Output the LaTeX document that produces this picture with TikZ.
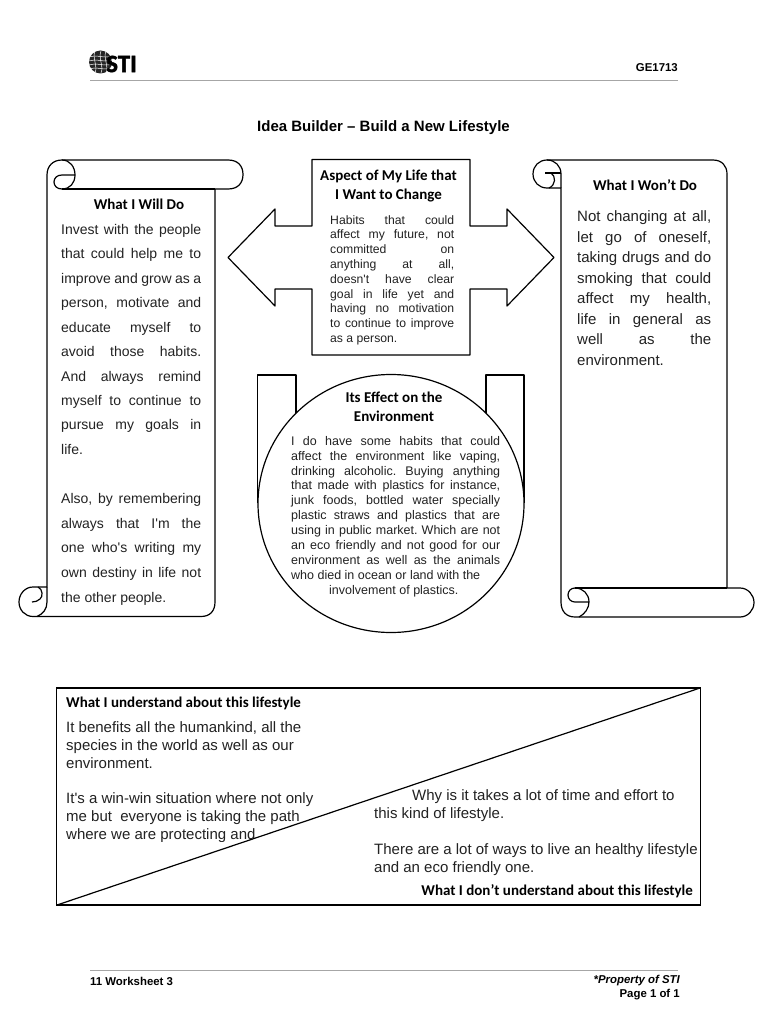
\documentclass[tikz,border=0pt]{standalone}
\usepackage{fontspec}
\setmainfont{Liberation Sans}[Ligatures=TeXOff]
\newfontfamily\calfont{Carlito}[Ligatures=TeXOff]
\newfontfamily\logofont{Carlito}[BoldFeatures={FakeBold=1.5}]
\definecolor{ink}{HTML}{222222}
\tikzset{
  outline/.style={draw=black,line width=1.2pt,fill=white,line join=round},
  rule/.style={draw=black!35,line width=1.8pt},
  para/.style={inner sep=0pt,anchor=north west,text=ink,align=left},
  just/.style={inner sep=0pt,anchor=north west,text=ink,align=justify},
  head/.style={inner sep=0pt,anchor=center,align=center,text=black,font=\calfont\bfseries\fontsize{15}{19}\selectfont},
  small/.style={inner sep=0pt,text=black,font=\bfseries\fontsize{11.4}{14}\selectfont}
}
\tolerance=10000 \hbadness=10000 \hfuzz=20pt \hyphenpenalty=10000 \exhyphenpenalty=10000
\frenchspacing
\begin{document}
\begin{tikzpicture}[x=1pt,y=-1pt]
\useasboundingbox (0,0) rectangle (768,1024);
\fill[white] (0,0) rectangle (768,1024);
% header
\fill[black!85] (100.5,62) circle [radius=11.5pt];
\foreach \yy in {56,60,64,68}{\draw[white,line width=.5pt] (89,\yy+1) .. controls (96,\yy-2) and (104,\yy+3) .. (112,\yy);}
\foreach \xx in {95,101,106}{\draw[white,line width=.5pt] (\xx,51) .. controls (\xx-3,58) and (\xx+3,66) .. (\xx,73);}
\node[inner sep=0pt,anchor=west,text=black,draw=none,font=\logofont\bfseries\fontsize{25}{25}\selectfont] (logo) at (106,64) {STI};
\draw[rule] (90,80.5) -- (678,80.5);
\node[small,anchor=east] (code) at (678,67.5) {GE1713};
\node[inner sep=0pt,anchor=center,font=\bfseries\fontsize{15}{16}\selectfont] (title) at (383.5,128) {Idea Builder – Build a New Lifestyle};
% left scroll
\path[outline] (47,175) .. controls (47,166) and (53,160) .. (62,160) -- (228,160) .. controls (238,160) and (243,166) .. (243,174.5) .. controls (243,183) and (238,189) .. (228,189) -- (215,189) -- (215,602) .. controls (215,611) and (210,616.5) .. (201,616.5) -- (33,616.5) .. controls (25,616.5) and (19,610) .. (19,602) .. controls (19,594) and (25,587) .. (33,587) -- (47,587) -- cycle;
\draw[outline,fill=none] (62,160) .. controls (70,160) and (75,167) .. (75,175) .. controls (75,183) and (70,189) .. (62,189) .. controls (57,189) and (54,186) .. (54,182) .. controls (54,178) and (57,175) .. (62,175) -- (75,175);
\draw[outline,fill=none] (62,189) -- (215,189);
\draw[outline,fill=none] (47,587) -- (47,602) .. controls (47,609) and (43,614) .. (37,616.5);
\draw[outline,fill=none] (38,587) .. controls (43,589) and (43,597) .. (40,599) .. controls (38,601) and (35,602) .. (32,602);
\node[head] (willhead) at (139,204) {What I Will Do};
\node[just,text width=140pt,font=\fontsize{14}{24.45}\selectfont] (will1) at (61,224) {Invest with the people\linebreak that could help me to\linebreak improve and grow as a\linebreak person, motivate and\linebreak educate myself to\linebreak avoid those habits.\linebreak And always remind\linebreak myself to continue to\linebreak pursue my goals in\linebreak life.};
\node[just,text width=140pt,font=\fontsize{14}{24.7}\selectfont] (will2) at (61,493) {Also, by remembering\linebreak always that I'm the\linebreak one who's writing my\linebreak own destiny in life not\linebreak the other people.};
% right scroll
\path[outline] (547,160) -- (713,160) .. controls (722,160) and (727,166) .. (727,174) -- (727,588) -- (740,588) .. controls (748,588) and (754,595) .. (754,602.5) .. controls (754,610) and (748,617) .. (740,617) -- (575,617) .. controls (566,617) and (561,611) .. (561,602) -- (561,188) -- (547,188) .. controls (539,188) and (533,182) .. (533,174) .. controls (533,166) and (539,160) .. (547,160) -- cycle;
\draw[outline,fill=none] (547,160) .. controls (555,160) and (561,166) .. (561,174) -- (561,188);
\draw[outline,fill=none] (545,173) -- (561,173);
\draw[outline,fill=none] (551,173) .. controls (556,176) and (556,185) .. (549,188);
\draw[outline,fill=none] (575,588) -- (727,588);
\draw[outline,fill=none] (589,602) -- (575,602) .. controls (571,602) and (568,599) .. (568,595) .. controls (568,591) and (571,588) .. (575,588) .. controls (583,588) and (589,594) .. (589,602) .. controls (589,608) and (585,614) .. (579,617);
\node[head] (wonthead) at (645,185) {What I Won’t Do};
\node[just,text width=134pt,font=\fontsize{15}{20.55}\selectfont] (wont) at (577,210.5) {Not changing at all,\linebreak let go of oneself,\linebreak taking drugs and do\linebreak smoking that could\linebreak affect my health,\linebreak life in general as\linebreak well as the\linebreak environment.};
% centre arrow
\path[outline] (312,159.5) -- (470,159.5) -- (470,226) -- (507,226) -- (507,209) -- (554,257.5) -- (507,306) -- (507,289) -- (470,289) -- (470,355) -- (312,355) -- (312,289) -- (275,289) -- (275,306) -- (228,257.5) -- (275,209) -- (275,226) -- (312,226) -- cycle;
\node[head] (aspecthead) at (388.5,186) {Aspect of My Life that\\I Want to Change};
\node[just,text width=124pt,font=\fontsize{12.2}{14.8}\selectfont] (aspect) at (330,215) {Habits that could\linebreak affect my future, not\linebreak committed on\linebreak anything at all,\linebreak doesn't have clear\linebreak goal in life yet and\linebreak having no motivation\linebreak to continue to improve\linebreak as a person.};
% circle with tabs
\path[outline] (257.5,503) -- (257.5,375) -- (296,375) -- (296,480);
\path[outline] (486,480) -- (486,375) -- (524,375) -- (524,503);
\path[outline] (391,503.5) circle [x radius=133pt,y radius=129pt];
\node[head] (effecthead) at (394,407) {Its Effect on the\\Environment};
\node[just,text width=209pt,font=\fontsize{12.5}{14.9}\selectfont] (effect) at (291,436) {I do have some habits that could\linebreak affect the environment like vaping,\linebreak drinking alcoholic. Buying anything\linebreak that made with plastics for instance,\linebreak junk foods, bottled water specially\linebreak plastic straws and plastics that are\linebreak using in public market. Which are not\linebreak an eco friendly and not good for our\linebreak environment as well as the animals\linebreak who died in ocean or land with the\hfill\null\linebreak\hspace*{38pt}involvement of plastics.};
% lower box
\draw[draw=black,line width=1.2pt] (56.5,688) rectangle (700.5,905);
\node[inner sep=0pt,anchor=west,text=black,font=\calfont\bfseries\fontsize{15}{16}\selectfont] (undhead) at (66,703) {What I understand about this lifestyle};
\node[para,font=\fontsize{15}{18}\selectfont] (und) at (66,721.5) {It benefits all the humankind, all the\\species in the world as well as our\\environment.\\[17pt]It's a win-win situation where not only\\me but\ \ everyone is taking the path\\where we are protecting and};
\fill[white] (60,841.5) rectangle (262,852);
\coordinate (diagA) at (57,905);
\coordinate (diagB) at (700,688);
\draw[line width=1.2pt] (diagA) -- (diagB);
\node[para,font=\fontsize{15}{18}\selectfont] (why) at (374,789.5) {\hspace*{38pt}Why is it takes a lot of time and effort to\\this kind of lifestyle.\\[18pt]There are a lot of ways to live an healthy lifestyle\\and an eco friendly one.};
\node[inner sep=0pt,anchor=east,text=black,font=\calfont\bfseries\fontsize{15}{16}\selectfont] (donthead) at (693,891) {What I don’t understand about this lifestyle};
% footer
\draw[rule] (90,970.5) -- (678,970.5);
\node[small,anchor=west] (sheet) at (90,981) {11 Worksheet 3};
\node[small,anchor=east,font=\bfseries\itshape\fontsize{11.4}{14}\selectfont] (prop) at (680,981) {*Property of STI};
\node[small,anchor=east] (page) at (680,995) {Page 1 of 1};
\end{tikzpicture}
\end{document}
